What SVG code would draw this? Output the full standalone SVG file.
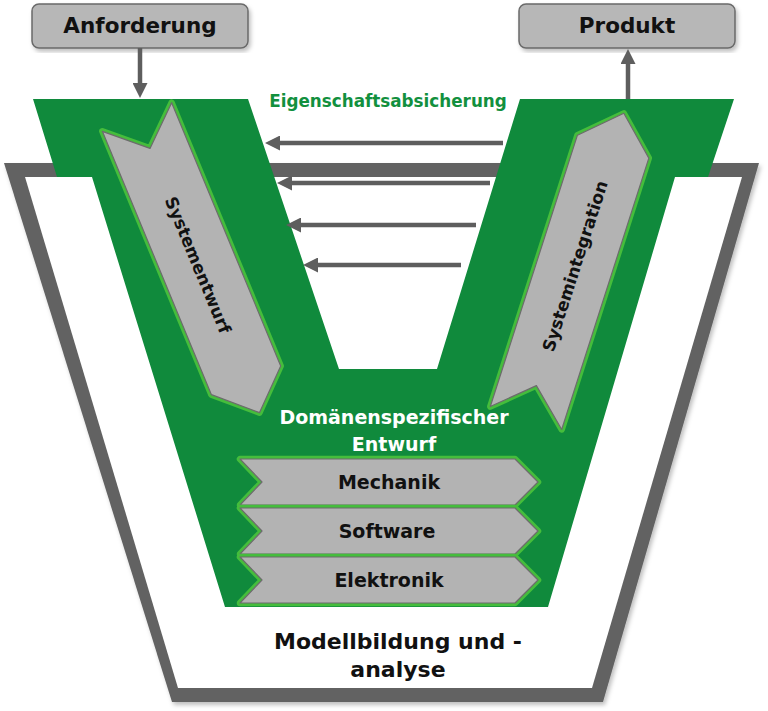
<svg xmlns="http://www.w3.org/2000/svg" xmlns:xlink="http://www.w3.org/1999/xlink" width="768" height="711" viewBox="0 0 768 711">
<style>
.box{fill:#b7b7b7;stroke:#6a6a6a;stroke-width:1.5}
.lbl{font-family:"DejaVu Sans","Liberation Sans",sans-serif;font-weight:bold;fill:#111;text-anchor:middle}
.wht{fill:#ffffff}
.grn{fill:#108a3c}
.conn{stroke:#5e5e5e;stroke-width:4.5;fill:none}
.glow{fill:none;stroke:#45bd3c;stroke-width:6.5;stroke-linejoin:round}
.shape{fill:#b3b3b3;stroke:#6c6c6c;stroke-width:1.2;stroke-linejoin:round}
</style>
<defs>
<filter id="sh" x="-10%" y="-10%" width="120%" height="120%">
<feDropShadow dx="2" dy="3" stdDeviation="2" flood-color="#000" flood-opacity="0.25"/>
</filter>
<marker id="ah" markerUnits="userSpaceOnUse" markerWidth="15" markerHeight="15" refX="2" refY="7.5" orient="auto">
<path d="M0,0 L15,7.5 L0,15 Z" fill="#5e5e5e"/>
</marker>
<path id="bigArrow" d="M-37.5,0 L0,34 L37.5,0 L37.5,285 L0,320 L-37.5,285 Z"/>
<path id="chev" d="M0,0 L275,0 L298,23 L275,46 L0,46 L22,23 Z"/>
</defs>

<g id="frame">
<polygon points="4,163 759,163 603,702 172,702" fill="#626262" filter="url(#sh)"/>
<polygon points="25,177 742,177 592,688 178,688" fill="#ffffff"/>
<text class="lbl" x="398" y="649" font-size="22">Modellbildung und -</text>
<text class="lbl" x="398" y="677" font-size="22">analyse</text>
</g>

<g id="vmodel">
<polygon class="grn" points="33,99 248,99 339,369 437,369 520,99 734,99 708,177 675,177 548,607 225,607 92,177 57,177"/>
<text x="388" y="107" font-family="DejaVu Sans, Liberation Sans, sans-serif" font-weight="bold" font-size="16.8" fill="#12903e" text-anchor="middle">Eigenschaftsabsicherung</text>
<text class="lbl wht" x="394" y="424" font-size="19">Domänenspezifischer</text>
<text class="lbl wht" x="394" y="451" font-size="19">Entwurf</text>
</g>

<g id="anforderung">
<rect class="box" x="32" y="4" width="216" height="44" rx="7" filter="url(#sh)"/>
<text class="lbl" x="140" y="33" font-size="21.5">Anforderung</text>
</g>

<g id="produkt">
<rect class="box" x="519" y="4" width="216" height="44" rx="7" filter="url(#sh)"/>
<text class="lbl" x="627" y="33" font-size="21.5">Produkt</text>
</g>

<g id="systementwurf" transform="translate(137,117) rotate(-22.5)">
<use xlink:href="#bigArrow" class="glow"/>
<use xlink:href="#bigArrow" class="shape"/>
</g>
<text class="lbl" x="198" y="265" font-size="17" dominant-baseline="central" transform="rotate(67.5 198 265)">Systementwurf</text>

<g id="systemintegration" transform="translate(526,418) rotate(197.8)">
<use xlink:href="#bigArrow" class="glow"/>
<use xlink:href="#bigArrow" class="shape"/>
</g>
<text class="lbl" x="575" y="266" font-size="17" dominant-baseline="central" transform="rotate(-72.2 575 266)">Systemintegration</text>

<g id="mechanik" transform="translate(240,459)">
<use xlink:href="#chev" class="glow"/>
<use xlink:href="#chev" class="shape"/>
<text class="lbl" x="149" y="30" font-size="19">Mechanik</text>
</g>
<g id="software" transform="translate(240,508)">
<use xlink:href="#chev" class="glow"/>
<use xlink:href="#chev" class="shape"/>
<text class="lbl" x="147" y="30" font-size="19">Software</text>
</g>
<g id="elektronik" transform="translate(240,557)">
<use xlink:href="#chev" class="glow"/>
<use xlink:href="#chev" class="shape"/>
<text class="lbl" x="149" y="30" font-size="19">Elektronik</text>
</g>

<g id="connectors">
<line class="conn" x1="140" y1="48" x2="140" y2="85" marker-end="url(#ah)"/>
<line class="conn" x1="628" y1="99" x2="628" y2="62" marker-end="url(#ah)"/>
<line class="conn" x1="503" y1="143" x2="278" y2="143" marker-end="url(#ah)"/>
<line class="conn" x1="490" y1="183" x2="290" y2="183" marker-end="url(#ah)"/>
<line class="conn" x1="476" y1="225" x2="299" y2="225" marker-end="url(#ah)"/>
<line class="conn" x1="461" y1="265" x2="316" y2="265" marker-end="url(#ah)"/>
</g>
</svg>
